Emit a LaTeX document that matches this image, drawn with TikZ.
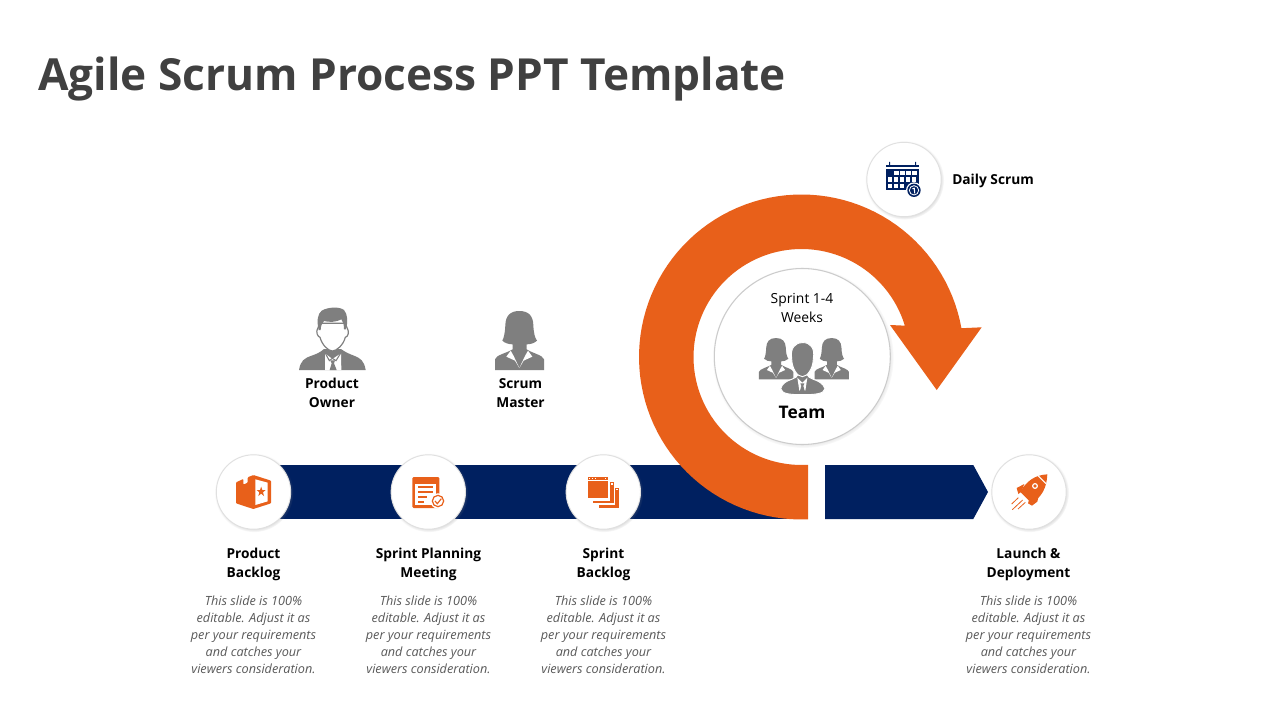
\documentclass[tikz,border=0pt]{standalone}
\usepackage{fontspec}
\setmainfont{Open Sans}
\usetikzlibrary{shadows}
\definecolor{navy}{HTML}{002060}
\definecolor{ora}{HTML}{E8601A}
\definecolor{gry}{HTML}{7F7F7F}
\definecolor{ttl}{HTML}{404040}
\definecolor{bodyg}{HTML}{595959}
\tikzset{
 iconcircle/.style={circle,fill=white,draw=black!12,line width=.7pt,inner sep=0pt,minimum size=55.8pt,
   circular drop shadow={shadow xshift=.4pt,shadow yshift=-.5pt,shadow scale=1.06,opacity=.4}},
 teamcircle/.style={circle,fill=white,draw=black!20,line width=.8pt,inner sep=0pt,minimum size=132pt,
   circular drop shadow={shadow xshift=.5pt,shadow yshift=-.6pt,shadow scale=1.03,opacity=.55}},
 headtxt/.style={font=\bfseries\fontsize{10.3}{14.25}\selectfont,align=center,text=black,inner sep=0pt},
 desctxt/.style={font=\itshape\fontsize{9.5}{12.7}\selectfont,align=center,text=bodyg,inner sep=0pt},
}
% icons are drawn in 1/3-pixel coordinates
\newcommand{\iconwoman}{%
 \fill[gry] (958,63) .. controls (930,63) and (917,78) .. (916,105) .. controls (915,128) and (912,143) .. (907,152)
   .. controls (915,160) and (928,163) .. (938,163) -- (938,178) .. controls (918,190) and (888,195) .. (885,208) -- (885,240) -- (1032,240) -- (1032,208)
   .. controls (1028,195) and (998,190) .. (980,178) -- (980,163) .. controls (990,163) and (1003,160) .. (1011,152)
   .. controls (1004,143) and (1001,128) .. (1000,105) .. controls (999,78) and (986,63) .. (958,63) -- cycle;
 \fill[white] (932,182) -- (919,200) -- (945,212) -- (958,234) -- (941,198) -- cycle;
 \fill[white] (984,182) -- (997,200) -- (971,212) -- (958,234) -- (975,198) -- cycle;
}
\newcommand{\iconman}{%
 \fill[gry] (297,240) .. controls (302,212) and (312,205) .. (335,197) .. controls (350,192) and (362,186) .. (372,177)
   -- (423,177) .. controls (435,186) and (448,192) .. (462,197) .. controls (482,205) and (492,212) .. (497,240) -- cycle;
 \fill[white] (375,190) -- (397,207) -- (423,190) -- (424,240) -- (375,240) -- cycle;
 \fill[gry] (391,211) -- (405,211) -- (402,220) -- (410,240) -- (389,240) -- (395,220) -- cycle;
 \draw[gry,line width=.8pt] (375,188) -- (388,212) -- (397,205) -- (408,212) -- (423,188);
 \draw[gry,line width=.9pt,fill=white] (352,118) .. controls (348,125) and (352,140) .. (360,142)
   .. controls (366,165) and (385,183) .. (397,183) .. controls (410,183) and (430,165) .. (436,142)
   .. controls (445,140) and (448,125) .. (442,115) -- (435,100) -- (360,100) -- cycle;
 \fill[gry] (356,120) .. controls (350,95) and (352,72) .. (365,62) .. controls (385,50) and (420,50) .. (432,60)
   .. controls (443,72) and (444,95) .. (438,118) -- (432,118) .. controls (432,105) and (430,95) .. (424,88)
   .. controls (410,97) and (385,97) .. (372,93) .. controls (366,100) and (362,108) .. (362,120) -- cycle;
}
\newcommand{\teamman}{%
 \fill[gry,draw=white,line width=.7pt] (92,176) .. controls (96,160) and (112,152) .. (125,148) .. controls (135,145) and (142,140) .. (145,132) -- (170,132) .. controls (173,140) and (180,145) .. (190,148) .. controls (203,152) and (220,160) .. (225,176) .. controls (222,192) and (195,194) .. (157,194) .. controls (120,194) and (95,192) .. (92,176) -- cycle;
 \fill[white] (142,143) -- (157,158) -- (172,143) -- (166,182) -- (148,182) -- cycle;
 \fill[gry] (151,160) -- (163,160) -- (160,168) -- (165,186) -- (149,186) -- (154,168) -- cycle;
 \fill[gry,draw=white,line width=.7pt] (125,85) .. controls (120,55) and (135,38) .. (157,38) .. controls (180,36) and (196,55) .. (190,85)
   .. controls (190,115) and (172,140) .. (157,140) .. controls (142,140) and (125,115) .. (125,85) -- cycle;
}
\begin{document}
\begin{tikzpicture}[x=.75pt,y=-.75pt]
\path[use as bounding box,fill=white] (0,0) rectangle (1280,720);
\node[anchor=west,inner sep=0pt,text=ttl,font=\bfseries\fontsize{33.15}{40}\selectfont] (title) at (38,79) {Agile Scrum Process PPT Template};

% bars and ring
\fill[navy] (253,465) rectangle (807,519);
\node[iconcircle] (cal) at (904,179.5) {};
\fill[ora] plot[domain=87.7:349.8,samples=90,variable=\t] ({801.5+162.5*cos(\t)},{357+162.5*sin(\t)})
  -- (981.7,327.3) -- (936.7,390) -- (890,325) -- (905.7,325.7)
  -- plot[domain=343.3:86.5,samples=90,variable=\t] ({801.5+108*cos(\t)},{357+108*sin(\t)}) -- cycle;
\fill[navy] (825,465) -- (973.3,465) -- (988,492) -- (973.3,519) -- (825,519) -- cycle;

% circles
\node[iconcircle] (pb) at (253.5,492) {};
\node[iconcircle] (sp) at (428.3,492) {};
\node[iconcircle] (sb) at (603.3,492) {};
\node[iconcircle] (ld) at (1029,492) {};
\node[teamcircle] (team) at (802.3,356.5) {};

% persons
\begin{scope}[shift={(200,290)},x=.25pt,y=-.25pt]
 \iconman
 \iconwoman
 % box
 \fill[ora,rounded corners=.6pt] (108,577) -- (130,567) -- (130,584) -- (143,578) -- (143,562) -- (160,555) -- (213,572) -- (213,640) -- (160,657) -- (108,640) -- cycle;
 \fill[white] (166,568) -- (203,578) -- (203,634) -- (166,645) -- cycle;
 \fill[ora] (183.5,590) -- (187,600) -- (197,600) -- (189,607) -- (192,618) -- (183.5,611) -- (175,618) -- (178,607) -- (170,600) -- (180,600) -- cycle;
 % document
 \fill[ora,rounded corners=1pt] (637,561) rectangle (718,654);
 \fill[white] (646,581) rectangle (709,645);
 \foreach \yy/\xx in {589/698,604/698,619/682,634/672}{\fill[ora] (654,\yy) rectangle (\xx,\yy+4);}
 \fill[white] (714,633) circle (23);
 \draw[ora,line width=.9pt] (714,633) circle (17);
 \draw[ora,line width=.9pt] (705,633) -- (712,641) -- (724,626);
 % windows
 \fill[ora] (1197,593) rectangle (1257,654);
 \fill[white] (1189,585) rectangle (1245,646);
 \fill[ora] (1245,593) rectangle (1257,601);
 \fill[white] (1247,596) rectangle (1253,599);
 \fill[ora] (1178,575) rectangle (1243,640);
 \fill[white] (1171,568) rectangle (1229,632);
 \fill[ora] (1229,575) rectangle (1243,587);
 \fill[white] (1232,579) rectangle (1239,584);
 \fill[ora] (1163,561) rectangle (1225,625);
 \fill[white] (1163,569) rectangle (1225,571);
 \foreach \xx in {1168,1176,1184,1216}{\fill[white] (\xx,564) rectangle (\xx+3,566.5);}
\end{scope}

% team
\begin{scope}[shift={(750,330)},x=.25pt,y=-.25pt]
 \begin{scope}[shift={(78,85)},x=.175pt,y=-.175pt]
 \begin{scope}[shift={(-958,-150)}]\iconwoman\end{scope}
 \end{scope}
 \begin{scope}[shift={(245,85)},x=.175pt,y=-.175pt]
 \begin{scope}[shift={(-958,-150)}]\iconwoman\end{scope}
 \end{scope}
 \teamman
\end{scope}

% calendar and rocket
\begin{scope}[shift={(630,130)},x=.25pt,y=-.25pt]
 \fill[navy] (768,106) rectangle (866,111);
 \fill[navy] (777,96) rectangle (780,106) (855,96) rectangle (858,106);
 \fill[navy] (768,118) rectangle (866,180);
 \foreach \xx in {793,811,829,847}{\fill[white] (\xx,123) rectangle (\xx+13,136);}
 \foreach \xx in {773,791,809,827,845}{\fill[white] (\xx,142) rectangle (\xx+13,155);}
 \foreach \xx in {773,791,809}{\fill[white] (\xx,161) rectangle (\xx+13,174);}
 \fill[white] (852,181) circle (24);
 \fill[navy] (852,181) circle (20);
 \draw[white,line width=.6pt] (852,181) circle (14);
 \draw[white,line width=.8pt] (847,176) -- (853,175) -- (854,190);
 % rocket
 \fill[ora] (1252,1033) .. controls (1212,1035) and (1190,1055) .. (1170,1085) -- (1205,1120) .. controls (1235,1100) and (1250,1075) .. (1252,1033) -- cycle;
 \fill[ora] (1183,1062) -- (1160,1074) -- (1165,1092) -- (1173,1086) -- cycle;
 \fill[ora] (1226,1098) -- (1205,1120) -- (1197,1110) -- (1194,1120) -- (1206,1127) -- (1222,1115) -- cycle;
 \draw[white,line width=.7pt] (1224,1037) -- (1248,1061);
 \draw[white,line width=.9pt] (1215,1068) circle (7);
 \draw[ora,line width=.6pt] (1145,1122) -- (1165,1103) (1147,1139) -- (1178,1110) (1164,1137) -- (1186,1117);
\end{scope}

% labels
\node[headtxt] (powner) at (332,393) {Product\\Owner};
\node[headtxt] (smaster) at (520.5,393) {Scrum\\Master};
\node[headtxt,anchor=west] (daily) at (952,181) {Daily Scrum};
\node[align=center,inner sep=0pt,font=\fontsize{10.4}{14.25}\selectfont] (sprint) at (802,308) {Sprint 1-4\\Weeks};
\node[inner sep=0pt,font=\bfseries\fontsize{13}{16}\selectfont] (teamlbl) at (802,412) {Team};
\node[headtxt] (n1) at (253.5,564) {Product\\Backlog};
\node[headtxt] (n2) at (428.5,564) {Sprint Planning\\Meeting};
\node[headtxt] (n3) at (603.5,564) {Sprint\\Backlog};
\node[headtxt] (n4) at (1028.5,564) {Launch \&\\Deployment};
\foreach \nm/\xx in {d1/253.5,d2/428.5,d3/603.5,d4/1028.5}{
 \node[desctxt] (\nm) at (\xx,634.5) {This slide is 100\%\\editable. Adjust it as\\per your requirements\\and catches your\\viewers consideration.};
}
\end{tikzpicture}
\end{document}
